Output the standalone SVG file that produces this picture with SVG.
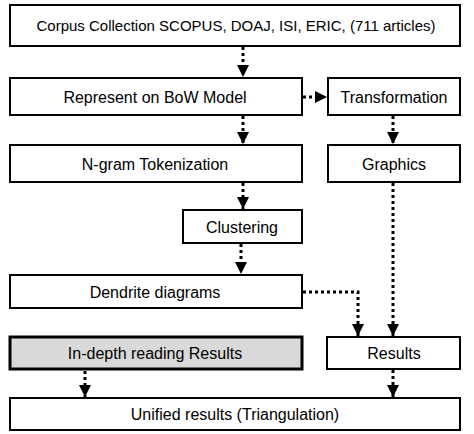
<svg xmlns="http://www.w3.org/2000/svg" width="474" height="434" viewBox="0 0 474 434">
<style>
.box{fill:#fff;stroke:#000;stroke-width:2}
.gray{fill:#d9d9d9;stroke:#000;stroke-width:3}
.t{font-family:"Liberation Sans",Arial,sans-serif;font-size:16px;fill:#000;text-anchor:middle;dominant-baseline:central}
.c{fill:none;stroke:#000;stroke-width:3;stroke-dasharray:3 3}
</style>
<defs>
<marker id="ah" viewBox="0 0 10 10" refX="10" refY="5" markerWidth="4" markerHeight="4" orient="auto" markerUnits="strokeWidth">
<path d="M0,0 L10,5 L0,10 z" fill="#000"/>
</marker>
</defs>
<rect width="474" height="434" fill="#fff"/>
<g id="connectors">
<path class="c" d="M243,47 V77" marker-end="url(#ah)"/>
<path class="c" d="M303,97 H327" marker-end="url(#ah)"/>
<path class="c" d="M243,116 V144" marker-end="url(#ah)"/>
<path class="c" d="M393,116 V144" marker-end="url(#ah)"/>
<path class="c" d="M243,183 V209" marker-end="url(#ah)"/>
<path class="c" d="M241,244 V274" marker-end="url(#ah)"/>
<path class="c" d="M393,183 V336" marker-end="url(#ah)"/>
<path class="c" d="M303,292 H358 V336" marker-end="url(#ah)"/>
<path class="c" d="M85,371 V397" marker-end="url(#ah)"/>
<path class="c" d="M393,370 V397" marker-end="url(#ah)"/>
</g>
<g id="corpus"><rect class="box" x="10" y="5" width="450" height="41"/><text class="t" x="236" y="25" style="font-size:15px">Corpus Collection SCOPUS, DOAJ, ISI, ERIC, (711 articles)</text></g>
<g id="bow"><rect class="box" x="10" y="78" width="292" height="37"/><text class="t" x="155" y="97">Represent on BoW Model</text></g>
<g id="transformation"><rect class="box" x="328" y="78" width="132" height="37"/><text class="t" x="394" y="97">Transformation</text></g>
<g id="ngram"><rect class="box" x="10" y="145" width="292" height="37"/><text class="t" x="155" y="164">N-gram Tokenization</text></g>
<g id="graphics"><rect class="box" x="328" y="145" width="132" height="37"/><text class="t" x="394" y="164">Graphics</text></g>
<g id="clustering"><rect class="box" x="183" y="210" width="119" height="33"/><text class="t" x="242" y="227">Clustering</text></g>
<g id="dendrite"><rect class="box" x="10" y="275" width="292" height="33"/><text class="t" x="155" y="292">Dendrite diagrams</text></g>
<g id="indepth"><rect class="gray" x="10" y="337" width="292" height="32"/><text class="t" x="155" y="353">In-depth reading Results</text></g>
<g id="results"><rect class="box" x="327" y="337" width="133" height="32"/><text class="t" x="394" y="353">Results</text></g>
<g id="unified"><rect class="box" x="10" y="398" width="450" height="32"/><text class="t" x="235" y="414">Unified results (Triangulation)</text></g>
</svg>
